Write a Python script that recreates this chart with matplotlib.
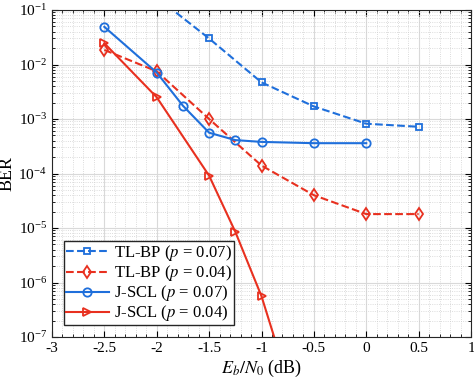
import matplotlib
matplotlib.use("Agg")
import matplotlib.pyplot as plt
from matplotlib.ticker import FixedLocator, FixedFormatter, LogLocator, NullFormatter

plt.rcParams['font.family'] = ['Liberation Serif', 'DejaVu Serif']
plt.rcParams['mathtext.fontset'] = 'stix'

x_tlbp07 = [-2.0, -1.5, -1.0, -0.5, 0.0, 0.5]
y_tlbp07 = [0.17, 0.030, 0.0047, 0.0017, 0.00082, 0.00072]

x_tlbp04 = [-2.5, -2.0, -1.5, -1.0, -0.5, 0.0, 0.5]
y_tlbp04 = [0.0185, 0.0075, 0.0010, 1.4e-4, 4.0e-5, 1.8e-5, 1.8e-5]

x_jscl07 = [-2.5, -2.0, -1.75, -1.5, -1.25, -1.0, -0.5, 0.0]
y_jscl07 = [0.049, 0.0071, 0.00175, 0.00056, 0.00041, 0.00038, 0.00036, 0.00036]

x_jscl04 = [-2.5, -2.0, -1.5, -1.25, -1.0, -0.75]
y_jscl04 = [0.0245, 0.0025, 9.1e-5, 8.5e-6, 5.6e-7, 1.6e-8]

labels = ['TL-BP ($p$ = 0.07)', 'TL-BP ($p$ = 0.04)', 'J-SCL ($p$ = 0.07)', 'J-SCL ($p$ = 0.04)']
xticks = [-3, -2.5, -2, -1.5, -1, -0.5, 0, 0.5, 1]
xticklabels = ['-3', '-2.5', '-2', '-1.5', '-1', '-0.5', '0', '0.5', '1']

blue = '#1f6fdb'
red = '#e8301f'

fig = plt.figure(figsize=(4.74, 3.83), dpi=100)
ax = fig.add_axes([52/474, 1-337/383, (471-52)/474, (337-10)/383])

ax.plot(x_tlbp07, y_tlbp07, '--', color=blue, lw=1.5, marker='s', ms=4.5, mfc='none', mew=1.3, label=labels[0])
ax.plot(x_tlbp04, y_tlbp04, '--', color=red, lw=1.5, marker='d', ms=6, mfc='none', mew=1.3, label=labels[1])
ax.plot(x_jscl07, y_jscl07, '-', color=blue, lw=1.5, marker='o', ms=6, mfc='none', mew=1.3, label=labels[2])
ax.plot(x_jscl04, y_jscl04, '-', color=red, lw=1.5, marker='>', ms=6, mfc='none', mew=1.3, label=labels[3])

ax.set_yscale('log')
ax.set_xlim(-3, 1)
ax.set_ylim(1e-7, 1e-1)
ax.xaxis.set_major_locator(FixedLocator(xticks))
ax.xaxis.set_major_formatter(FixedFormatter(xticklabels))
ax.yaxis.set_major_locator(LogLocator(base=10, numticks=20))
ax.yaxis.set_minor_locator(LogLocator(base=10, subs=range(2, 10), numticks=20))
ax.yaxis.set_minor_formatter(NullFormatter())
ax.xaxis.set_minor_locator(FixedLocator([v/10 for v in range(-30, 11)]))
ax.xaxis.set_minor_formatter(NullFormatter())

ax.grid(True, which='major', color='#d9d9d9', lw=0.8, ls='-')
ax.grid(True, which='minor', color='#d0d0d0', lw=0.6, ls=':')
ax.set_axisbelow(True)
ax.tick_params(which='both', direction='in', top=True, right=True, labelsize=11)
ax.tick_params(axis='x', which='minor', length=0)
ax.tick_params(which='major', length=4)
ax.tick_params(which='minor', length=2)
for s in ax.spines.values():
    s.set_color('#262626')
    s.set_linewidth(0.8)

ax.set_xlabel('$E_b/N_0$ (dB)', fontsize=13, labelpad=2)
ax.set_ylabel('BER', fontsize=13, labelpad=2)

leg = ax.legend(loc='lower left', fontsize=12, frameon=True, fancybox=False, edgecolor='#262626',
                borderpad=0.12, labelspacing=0.0, handlelength=2.6, handletextpad=0.3,
                borderaxespad=0.7, framealpha=1)
leg.get_frame().set_linewidth(1.0)

fig.savefig('out.png', dpi=100)
